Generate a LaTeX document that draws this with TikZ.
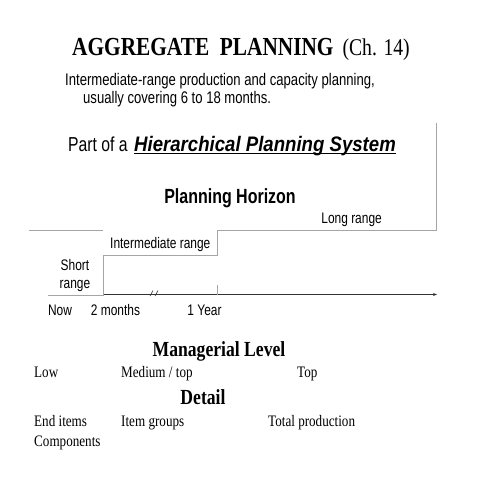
\documentclass[tikz,border=0pt]{standalone}
\usepackage{fontspec}
\setmainfont{Liberation Serif}[FakeStretch=0.82]
\setsansfont{Liberation Sans}[FakeStretch=0.78]
\newfontfamily\hpsfont{Liberation Sans}[FakeStretch=0.886]
\usetikzlibrary{arrows.meta}
\definecolor{stairgray}{RGB}{165,165,165}

\begin{document}
\begin{tikzpicture}[x=1pt,y=-1pt,
  txt/.style={inner sep=0pt,anchor=base west},
  sans/.style={txt,font=\sffamily\fontsize{15.3}{18}\selectfont},
  rom/.style={txt,font=\rmfamily\fontsize{16}{19}\selectfont},
  head/.style={txt,anchor=base,font=\rmfamily\bfseries\fontsize{21.5}{25}\selectfont},
  stair/.style={draw=stairgray,line width=0.8pt}]
  \useasboundingbox[fill=white] (0,0) rectangle (480,480);

  % title and subtitle
  \node[txt] (title) at (72,55) {\fontsize{26}{30}\selectfont\bfseries AGGREGATE\ \ PLANNING};
  \node[txt,anchor=base east] (chap) at (410,55) {\fontsize{24}{28}\selectfont (Ch. 14)};
  \node[txt,font=\sffamily\fontsize{16.8}{20}\selectfont] (sub1) at (65,85) {Intermediate-range production and capacity planning,};
  \node[txt,font=\sffamily\fontsize{16.8}{20}\selectfont] (sub2) at (83,103.5) {usually covering 6 to 18 months.};

  \node[txt,font=\sffamily\fontsize{20.2}{24}\selectfont] (partof) at (68,151) {Part of a};
  \node[txt,font=\hpsfont\bfseries\itshape\fontsize{21}{25}\selectfont] (hps) at (134,151) {Hierarchical Planning System};
  \draw[line width=1.1pt] ([yshift=-2.5pt]hps.base west) -- ([yshift=-2.5pt]hps.base east);

  \node[txt,anchor=base,font=\sffamily\bfseries\fontsize{20.5}{24}\selectfont] (horizon) at (230,203) {Planning Horizon};

  % ranges
  \draw[stair] (29,230) -- (103,230);
  \draw[stair] (48,295) -- (103,295) -- (103,255.5) -- (217,255.5) -- (217,230) -- (436,230) -- (436,123);

  \node[sans,anchor=base east] (long) at (382,223) {Long range};
  \node[sans] (inter) at (110,248) {Intermediate range};
  \node[sans,anchor=base] (short1) at (75,270.5) {Short};
  \node[sans,anchor=base] (short2) at (75,288) {range};

  % time axis
  \coordinate (t0) at (103,294.5);
  \coordinate (t1) at (217,294.5);
  \coordinate (tend) at (437,294.5);
  \draw[black!80,line width=0.8pt,-{Stealth[length=4pt,width=3pt]}] (t0) -- (tend);
  \draw[stairgray,line width=0.8pt] (t0) -- ++(0,-8);
  \draw[stairgray,line width=0.8pt] (t1) -- ++(0,-9.5);
  \draw[black!80,line width=0.6pt] (150,296) -- (153,290.5) (155,296) -- (158,290.5);

  \node[sans,anchor=base] (now) at (60,315) {Now};
  \node[sans,anchor=base] (months) at (115.5,315) {2 months};
  \node[sans,anchor=base] (year) at (204.5,315) {1 Year};

  % managerial level and detail
  \node[head] (mgr) at (219,356) {Managerial Level};
  \node[rom] (low) at (34,377) {Low};
  \node[rom] (med) at (121,377) {Medium / top};
  \node[rom] (top) at (297,377) {Top};

  \node[head] (detail) at (203,404) {Detail};
  \node[rom] (end) at (34,426.5) {End items};
  \node[rom] (groups) at (121,426.5) {Item groups};
  \node[rom] (total) at (268,426.5) {Total production};
  \node[rom] (comp) at (34,446.5) {Components};
\end{tikzpicture}
\end{document}
